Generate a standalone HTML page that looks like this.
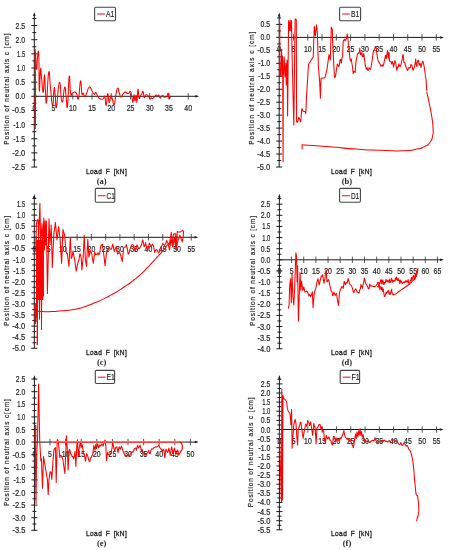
<!DOCTYPE html>
<html><head><meta charset="utf-8"><style>
html,body{margin:0;padding:0;background:#fff;}
svg{display:block}
.tl{font-family:"Liberation Sans", sans-serif;font-size:8.8px;fill:#222;stroke:#222;stroke-width:0.2px;}
.tt{font-family:"Liberation Sans", sans-serif;font-size:8.0px;fill:#222;stroke:#222;stroke-width:0.2px;}
.xt{word-spacing:1.5px;stroke-width:0.35px}
.lg{font-family:"Liberation Sans", sans-serif;font-size:8.6px;fill:#222;stroke:#222;stroke-width:0.15px;}
.cap{font-family:"Liberation Serif", serif;font-size:8.5px;font-weight:bold;fill:#222;}
</style></head><body>
<svg width="453" height="550" viewBox="0 0 453 550">
<rect width="453" height="550" fill="#fff"/>
<line x1="34.3" y1="167.05" x2="34.3" y2="14.3" stroke="#1a1a1a" stroke-width="1"/>
<path d="M34.3 12.3 L33.05 16.1 L35.55 16.1 Z" fill="#1a1a1a"/>
<line x1="31.3" y1="167.05" x2="37.3" y2="167.05" stroke="#1a1a1a" stroke-width="1"/>
<text transform="translate(25.2,170.05)" class="tl" text-anchor="end" textLength="12.9" lengthAdjust="spacingAndGlyphs">-2.5</text>
<line x1="32.3" y1="159.97" x2="36.3" y2="159.97" stroke="#1a1a1a" stroke-width="1"/>
<line x1="31.3" y1="152.9" x2="37.3" y2="152.9" stroke="#1a1a1a" stroke-width="1"/>
<text transform="translate(25.2,155.9)" class="tl" text-anchor="end" textLength="12.9" lengthAdjust="spacingAndGlyphs">-2.0</text>
<line x1="32.3" y1="145.82" x2="36.3" y2="145.82" stroke="#1a1a1a" stroke-width="1"/>
<line x1="31.3" y1="138.75" x2="37.3" y2="138.75" stroke="#1a1a1a" stroke-width="1"/>
<text transform="translate(25.2,141.75)" class="tl" text-anchor="end" textLength="11.9" lengthAdjust="spacingAndGlyphs">-1.5</text>
<line x1="32.3" y1="131.68" x2="36.3" y2="131.68" stroke="#1a1a1a" stroke-width="1"/>
<line x1="31.3" y1="124.6" x2="37.3" y2="124.6" stroke="#1a1a1a" stroke-width="1"/>
<text transform="translate(25.2,127.6)" class="tl" text-anchor="end" textLength="11.9" lengthAdjust="spacingAndGlyphs">-1.0</text>
<line x1="32.3" y1="117.53" x2="36.3" y2="117.53" stroke="#1a1a1a" stroke-width="1"/>
<line x1="31.3" y1="110.45" x2="37.3" y2="110.45" stroke="#1a1a1a" stroke-width="1"/>
<text transform="translate(25.2,113.45)" class="tl" text-anchor="end" textLength="12.9" lengthAdjust="spacingAndGlyphs">-0.5</text>
<line x1="32.3" y1="103.38" x2="36.3" y2="103.38" stroke="#1a1a1a" stroke-width="1"/>
<line x1="31.3" y1="96.3" x2="37.3" y2="96.3" stroke="#1a1a1a" stroke-width="1"/>
<text transform="translate(25.2,99.3)" class="tl" text-anchor="end" textLength="9.6" lengthAdjust="spacingAndGlyphs">0.0</text>
<line x1="32.3" y1="89.22" x2="36.3" y2="89.22" stroke="#1a1a1a" stroke-width="1"/>
<line x1="31.3" y1="82.15" x2="37.3" y2="82.15" stroke="#1a1a1a" stroke-width="1"/>
<text transform="translate(25.2,85.15)" class="tl" text-anchor="end" textLength="9.6" lengthAdjust="spacingAndGlyphs">0.5</text>
<line x1="32.3" y1="75.07" x2="36.3" y2="75.07" stroke="#1a1a1a" stroke-width="1"/>
<line x1="31.3" y1="68" x2="37.3" y2="68" stroke="#1a1a1a" stroke-width="1"/>
<text transform="translate(25.2,71)" class="tl" text-anchor="end" textLength="8.1" lengthAdjust="spacingAndGlyphs">1.0</text>
<line x1="32.3" y1="60.92" x2="36.3" y2="60.92" stroke="#1a1a1a" stroke-width="1"/>
<line x1="31.3" y1="53.85" x2="37.3" y2="53.85" stroke="#1a1a1a" stroke-width="1"/>
<text transform="translate(25.2,56.85)" class="tl" text-anchor="end" textLength="8.1" lengthAdjust="spacingAndGlyphs">1.5</text>
<line x1="32.3" y1="46.77" x2="36.3" y2="46.77" stroke="#1a1a1a" stroke-width="1"/>
<line x1="31.3" y1="39.7" x2="37.3" y2="39.7" stroke="#1a1a1a" stroke-width="1"/>
<text transform="translate(25.2,42.7)" class="tl" text-anchor="end" textLength="9.6" lengthAdjust="spacingAndGlyphs">2.0</text>
<line x1="32.3" y1="32.62" x2="36.3" y2="32.62" stroke="#1a1a1a" stroke-width="1"/>
<line x1="31.3" y1="25.55" x2="37.3" y2="25.55" stroke="#1a1a1a" stroke-width="1"/>
<text transform="translate(25.2,28.55)" class="tl" text-anchor="end" textLength="9.6" lengthAdjust="spacingAndGlyphs">2.5</text>
<line x1="32.3" y1="18.47" x2="36.3" y2="18.47" stroke="#1a1a1a" stroke-width="1"/>
<line x1="34.3" y1="96.3" x2="197.2" y2="96.3" stroke="#1a1a1a" stroke-width="1"/>
<path d="M199.2 96.3 L195.4 95.05 L195.4 97.55 Z" fill="#1a1a1a"/>
<text transform="translate(34.3,110.9)" class="tl" text-anchor="middle" textLength="3.87" lengthAdjust="spacingAndGlyphs">0</text>
<line x1="53.54" y1="93.1" x2="53.54" y2="99.5" stroke="#3a3a3a" stroke-width="0.85"/>
<text transform="translate(53.54,110.9)" class="tl" text-anchor="middle" textLength="3.87" lengthAdjust="spacingAndGlyphs">5</text>
<line x1="72.78" y1="93.1" x2="72.78" y2="99.5" stroke="#3a3a3a" stroke-width="0.85"/>
<text transform="translate(72.78,110.9)" class="tl" text-anchor="middle" textLength="7.75" lengthAdjust="spacingAndGlyphs">10</text>
<line x1="92.02" y1="93.1" x2="92.02" y2="99.5" stroke="#3a3a3a" stroke-width="0.85"/>
<text transform="translate(92.02,110.9)" class="tl" text-anchor="middle" textLength="7.75" lengthAdjust="spacingAndGlyphs">15</text>
<line x1="111.26" y1="93.1" x2="111.26" y2="99.5" stroke="#3a3a3a" stroke-width="0.85"/>
<text transform="translate(111.26,110.9)" class="tl" text-anchor="middle" textLength="7.75" lengthAdjust="spacingAndGlyphs">20</text>
<line x1="130.5" y1="93.1" x2="130.5" y2="99.5" stroke="#3a3a3a" stroke-width="0.85"/>
<text transform="translate(130.5,110.9)" class="tl" text-anchor="middle" textLength="7.75" lengthAdjust="spacingAndGlyphs">25</text>
<line x1="149.74" y1="93.1" x2="149.74" y2="99.5" stroke="#3a3a3a" stroke-width="0.85"/>
<text transform="translate(149.74,110.9)" class="tl" text-anchor="middle" textLength="7.75" lengthAdjust="spacingAndGlyphs">30</text>
<line x1="168.98" y1="93.1" x2="168.98" y2="99.5" stroke="#3a3a3a" stroke-width="0.85"/>
<text transform="translate(168.98,110.9)" class="tl" text-anchor="middle" textLength="7.75" lengthAdjust="spacingAndGlyphs">35</text>
<line x1="188.22" y1="93.1" x2="188.22" y2="99.5" stroke="#3a3a3a" stroke-width="0.85"/>
<text transform="translate(188.22,110.9)" class="tl" text-anchor="middle" textLength="7.75" lengthAdjust="spacingAndGlyphs">40</text>
<text transform="translate(9.2,144.7) rotate(-90) scale(0.82,1)" class="tt" textLength="135.85" lengthAdjust="spacing">Position of neutral axis c [cm]</text>
<text transform="translate(85.9,173.9) scale(0.82,1)" class="tt xt" textLength="50" lengthAdjust="spacing">Load F [kN]</text>
<text x="101.6" y="183.5" text-anchor="middle" class="cap">(a)</text>
<rect x="94.6" y="7.3" width="20.9" height="13.4" fill="#fff" stroke="#444" stroke-width="1.1" rx="1.2"/>
<line x1="97.1" y1="14" x2="104.9" y2="14" stroke="#ff2a40" stroke-width="1.2"/>
<text x="105.9" y="16.8" class="lg" textLength="8.3" lengthAdjust="spacingAndGlyphs">A1</text>
<path d="M35 96.3 35.3 128.5 35.6 100 35.2 49.4 36.6 69.5" fill="none" stroke="#f00" stroke-width="1.05" stroke-linejoin="round"/>
<path d="M36.6 69.5 C37.13 64.89 37.88 46.6 38.6 52.2 C39.32 57.8 38.79 85.94 39.3 90.5 C39.81 95.06 39.89 72.58 40.5 69.3 C41.11 66.02 40.85 72.09 41.6 78.2 C42.35 84.31 42.55 93.08 43.3 92.2 C44.05 91.32 43.81 74.95 44.4 74.9 C44.99 74.85 44.91 84.91 45.5 92 C46.09 99.09 45.75 106.75 46.6 101.5 C47.45 96.25 47.66 75.9 48.7 72.3 C49.74 68.7 49.46 79.17 50.5 88 C51.54 96.83 51.61 105.35 52.6 105.4 C53.59 105.45 53.48 90.71 54.2 88.2 C54.92 85.69 54.69 90.99 55.3 96 C55.91 101.01 55.41 110.65 56.5 107 C57.59 103.35 57.93 83.63 59.4 82.3 C60.87 80.97 60.61 100.61 62 102 C63.39 103.39 63.53 89.37 64.6 87.5 C65.67 85.63 65.23 89.93 66 95 C66.77 100.07 66.65 111.46 67.5 106.5 C68.35 101.54 68.37 79.81 69.2 76.4 C70.03 72.99 69.8 89.22 70.6 93.7 C71.4 98.18 71.03 93.63 72.2 93.2 C73.37 92.77 73.83 91.97 75 92.1 C76.17 92.23 75.64 92.1 76.6 93.7 C77.56 95.3 77.56 101.49 78.6 98.1 C79.64 94.71 79.62 82.17 80.5 81 C81.38 79.83 81.18 90.45 81.9 93.7 C82.62 96.95 82.4 92.45 83.2 93.2 C84 93.95 83.99 96.5 84.9 96.5 C85.81 96.5 85.43 95.71 86.6 93.2 C87.77 90.69 87.83 87.69 89.3 87.1 C90.77 86.51 90.77 89.08 92.1 91 C93.43 92.92 93.29 93.87 94.3 94.3 C95.31 94.73 94.89 91.88 95.9 92.6 C96.91 93.32 96.9 95.32 98.1 97 C99.3 98.68 99.07 98.39 100.4 98.9 C101.73 99.41 101.93 99.54 103.1 98.9 C104.27 98.26 103.97 94.79 104.8 96.5 C105.63 98.21 105.43 106.05 106.2 105.3 C106.97 104.55 106.9 94.42 107.7 93.7 C108.5 92.98 108.37 101.99 109.2 102.6 C110.03 103.21 109.92 96.75 110.8 96 C111.68 95.25 111.59 97.45 112.5 99.8 C113.41 102.15 113.32 105.97 114.2 104.8 C115.08 103.63 114.89 99.83 115.8 95.4 C116.71 90.97 116.61 88.65 117.6 88.2 C118.59 87.75 118.57 91.35 119.5 93.7 C120.43 96.05 120.09 97 121.1 97 C122.11 97 122.13 95.01 123.3 93.7 C124.47 92.39 124.19 92.1 125.5 92.1 C126.81 92.1 126.87 93.86 128.2 93.7 C129.53 93.54 129.46 90.33 130.5 91.5 C131.54 92.67 131.46 95.3 132.1 98.1 C132.74 100.9 132.39 102.88 132.9 102 C133.41 101.12 133.47 95.09 134 94.8 C134.53 94.51 134.31 100.74 134.9 100.9 C135.49 101.06 135.67 95.11 136.2 95.4 C136.73 95.69 136.42 103.63 136.9 102 C137.38 100.37 137.41 90.34 138 89.3 C138.59 88.26 138.41 96.47 139.1 98.1 C139.79 99.73 139.91 96.41 140.6 95.4 C141.29 94.39 141.03 95.34 141.7 94.3 C142.37 93.26 142.43 90.62 143.1 91.5 C143.77 92.38 143.45 96.72 144.2 97.6 C144.95 98.48 144.86 95.25 145.9 94.8 C146.94 94.35 146.93 94.86 148.1 95.9 C149.27 96.94 149.45 98.22 150.3 98.7 C151.15 99.18 150.69 97.75 151.3 97.7 C151.91 97.65 151.77 98.74 152.6 98.5 C153.43 98.26 153.44 97.73 154.4 96.8 C155.36 95.87 155.37 95.13 156.2 95 C157.03 94.87 156.81 96.3 157.5 96.3 C158.19 96.3 158.08 94.52 158.8 95 C159.52 95.48 159.48 97.75 160.2 98.1 C160.92 98.45 160.81 96.99 161.5 96.3 C162.19 95.61 162.11 95.26 162.8 95.5 C163.49 95.74 163.27 96.85 164.1 97.2 C164.93 97.55 165.07 97.15 165.9 96.8 C166.73 96.45 166.61 96.86 167.2 95.9 C167.79 94.94 167.62 92.72 168.1 93.2 C168.58 93.68 168.6 96.29 169 97.7 C169.4 99.11 169.25 98.74 169.6 98.5 C169.95 98.26 170.46 96.67 170.3 96.8 C170.14 96.93 169.35 98.41 169 99" fill="none" stroke="#f00" stroke-width="1.05" stroke-linejoin="round"/>
<line x1="279.2" y1="167" x2="279.2" y2="14.6" stroke="#1a1a1a" stroke-width="1"/>
<path d="M279.2 12.6 L277.95 16.4 L280.45 16.4 Z" fill="#1a1a1a"/>
<line x1="276.2" y1="167" x2="282.2" y2="167" stroke="#1a1a1a" stroke-width="1"/>
<text transform="translate(270.1,170)" class="tl" text-anchor="end" textLength="12.9" lengthAdjust="spacingAndGlyphs">-5.0</text>
<line x1="277.2" y1="160.52" x2="281.2" y2="160.52" stroke="#1a1a1a" stroke-width="1"/>
<line x1="276.2" y1="154.04" x2="282.2" y2="154.04" stroke="#1a1a1a" stroke-width="1"/>
<text transform="translate(270.1,157.04)" class="tl" text-anchor="end" textLength="12.9" lengthAdjust="spacingAndGlyphs">-4.5</text>
<line x1="277.2" y1="147.56" x2="281.2" y2="147.56" stroke="#1a1a1a" stroke-width="1"/>
<line x1="276.2" y1="141.08" x2="282.2" y2="141.08" stroke="#1a1a1a" stroke-width="1"/>
<text transform="translate(270.1,144.08)" class="tl" text-anchor="end" textLength="12.9" lengthAdjust="spacingAndGlyphs">-4.0</text>
<line x1="277.2" y1="134.6" x2="281.2" y2="134.6" stroke="#1a1a1a" stroke-width="1"/>
<line x1="276.2" y1="128.12" x2="282.2" y2="128.12" stroke="#1a1a1a" stroke-width="1"/>
<text transform="translate(270.1,131.12)" class="tl" text-anchor="end" textLength="12.9" lengthAdjust="spacingAndGlyphs">-3.5</text>
<line x1="277.2" y1="121.64" x2="281.2" y2="121.64" stroke="#1a1a1a" stroke-width="1"/>
<line x1="276.2" y1="115.16" x2="282.2" y2="115.16" stroke="#1a1a1a" stroke-width="1"/>
<text transform="translate(270.1,118.16)" class="tl" text-anchor="end" textLength="12.9" lengthAdjust="spacingAndGlyphs">-3.0</text>
<line x1="277.2" y1="108.68" x2="281.2" y2="108.68" stroke="#1a1a1a" stroke-width="1"/>
<line x1="276.2" y1="102.2" x2="282.2" y2="102.2" stroke="#1a1a1a" stroke-width="1"/>
<text transform="translate(270.1,105.2)" class="tl" text-anchor="end" textLength="12.9" lengthAdjust="spacingAndGlyphs">-2.5</text>
<line x1="277.2" y1="95.72" x2="281.2" y2="95.72" stroke="#1a1a1a" stroke-width="1"/>
<line x1="276.2" y1="89.24" x2="282.2" y2="89.24" stroke="#1a1a1a" stroke-width="1"/>
<text transform="translate(270.1,92.24)" class="tl" text-anchor="end" textLength="12.9" lengthAdjust="spacingAndGlyphs">-2.0</text>
<line x1="277.2" y1="82.76" x2="281.2" y2="82.76" stroke="#1a1a1a" stroke-width="1"/>
<line x1="276.2" y1="76.28" x2="282.2" y2="76.28" stroke="#1a1a1a" stroke-width="1"/>
<text transform="translate(270.1,79.28)" class="tl" text-anchor="end" textLength="11.9" lengthAdjust="spacingAndGlyphs">-1.5</text>
<line x1="277.2" y1="69.8" x2="281.2" y2="69.8" stroke="#1a1a1a" stroke-width="1"/>
<line x1="276.2" y1="63.32" x2="282.2" y2="63.32" stroke="#1a1a1a" stroke-width="1"/>
<text transform="translate(270.1,66.32)" class="tl" text-anchor="end" textLength="11.9" lengthAdjust="spacingAndGlyphs">-1.0</text>
<line x1="277.2" y1="56.84" x2="281.2" y2="56.84" stroke="#1a1a1a" stroke-width="1"/>
<line x1="276.2" y1="50.36" x2="282.2" y2="50.36" stroke="#1a1a1a" stroke-width="1"/>
<text transform="translate(270.1,53.36)" class="tl" text-anchor="end" textLength="12.9" lengthAdjust="spacingAndGlyphs">-0.5</text>
<line x1="277.2" y1="43.88" x2="281.2" y2="43.88" stroke="#1a1a1a" stroke-width="1"/>
<line x1="276.2" y1="37.4" x2="282.2" y2="37.4" stroke="#1a1a1a" stroke-width="1"/>
<text transform="translate(270.1,40.4)" class="tl" text-anchor="end" textLength="9.6" lengthAdjust="spacingAndGlyphs">0.0</text>
<line x1="277.2" y1="30.92" x2="281.2" y2="30.92" stroke="#1a1a1a" stroke-width="1"/>
<line x1="276.2" y1="24.44" x2="282.2" y2="24.44" stroke="#1a1a1a" stroke-width="1"/>
<text transform="translate(270.1,27.44)" class="tl" text-anchor="end" textLength="9.6" lengthAdjust="spacingAndGlyphs">0.5</text>
<line x1="277.2" y1="17.96" x2="281.2" y2="17.96" stroke="#1a1a1a" stroke-width="1"/>
<line x1="279.2" y1="37.4" x2="442" y2="37.4" stroke="#1a1a1a" stroke-width="1"/>
<path d="M444 37.4 L440.2 36.15 L440.2 38.65 Z" fill="#1a1a1a"/>
<text transform="translate(279.2,52)" class="tl" text-anchor="middle" textLength="3.87" lengthAdjust="spacingAndGlyphs">0</text>
<line x1="293.48" y1="34.2" x2="293.48" y2="40.6" stroke="#3a3a3a" stroke-width="0.85"/>
<text transform="translate(293.48,52)" class="tl" text-anchor="middle" textLength="3.87" lengthAdjust="spacingAndGlyphs">5</text>
<line x1="307.76" y1="34.2" x2="307.76" y2="40.6" stroke="#3a3a3a" stroke-width="0.85"/>
<text transform="translate(307.76,52)" class="tl" text-anchor="middle" textLength="7.75" lengthAdjust="spacingAndGlyphs">10</text>
<line x1="322.04" y1="34.2" x2="322.04" y2="40.6" stroke="#3a3a3a" stroke-width="0.85"/>
<text transform="translate(322.04,52)" class="tl" text-anchor="middle" textLength="7.75" lengthAdjust="spacingAndGlyphs">15</text>
<line x1="336.32" y1="34.2" x2="336.32" y2="40.6" stroke="#3a3a3a" stroke-width="0.85"/>
<text transform="translate(336.32,52)" class="tl" text-anchor="middle" textLength="7.75" lengthAdjust="spacingAndGlyphs">20</text>
<line x1="350.6" y1="34.2" x2="350.6" y2="40.6" stroke="#3a3a3a" stroke-width="0.85"/>
<text transform="translate(350.6,52)" class="tl" text-anchor="middle" textLength="7.75" lengthAdjust="spacingAndGlyphs">25</text>
<line x1="364.88" y1="34.2" x2="364.88" y2="40.6" stroke="#3a3a3a" stroke-width="0.85"/>
<text transform="translate(364.88,52)" class="tl" text-anchor="middle" textLength="7.75" lengthAdjust="spacingAndGlyphs">30</text>
<line x1="379.16" y1="34.2" x2="379.16" y2="40.6" stroke="#3a3a3a" stroke-width="0.85"/>
<text transform="translate(379.16,52)" class="tl" text-anchor="middle" textLength="7.75" lengthAdjust="spacingAndGlyphs">35</text>
<line x1="393.44" y1="34.2" x2="393.44" y2="40.6" stroke="#3a3a3a" stroke-width="0.85"/>
<text transform="translate(393.44,52)" class="tl" text-anchor="middle" textLength="7.75" lengthAdjust="spacingAndGlyphs">40</text>
<line x1="407.72" y1="34.2" x2="407.72" y2="40.6" stroke="#3a3a3a" stroke-width="0.85"/>
<text transform="translate(407.72,52)" class="tl" text-anchor="middle" textLength="7.75" lengthAdjust="spacingAndGlyphs">45</text>
<line x1="422" y1="34.2" x2="422" y2="40.6" stroke="#3a3a3a" stroke-width="0.85"/>
<text transform="translate(422,52)" class="tl" text-anchor="middle" textLength="7.75" lengthAdjust="spacingAndGlyphs">50</text>
<line x1="436.28" y1="34.2" x2="436.28" y2="40.6" stroke="#3a3a3a" stroke-width="0.85"/>
<text transform="translate(436.28,52)" class="tl" text-anchor="middle" textLength="7.75" lengthAdjust="spacingAndGlyphs">55</text>
<text transform="translate(254.1,144.8) rotate(-90) scale(0.82,1)" class="tt" textLength="138.05" lengthAdjust="spacing">Position of neutral axis c [cm]</text>
<text transform="translate(330.9,173.7) scale(0.82,1)" class="tt xt" textLength="50" lengthAdjust="spacing">Load F [kN]</text>
<text x="346.9" y="183.6" text-anchor="middle" class="cap">(b)</text>
<rect x="339.6" y="7.3" width="21" height="13.4" fill="#fff" stroke="#444" stroke-width="1.1" rx="1.2"/>
<line x1="342.1" y1="14" x2="349.9" y2="14" stroke="#ff2a40" stroke-width="1.2"/>
<text x="350.9" y="16.8" class="lg" textLength="8.3" lengthAdjust="spacingAndGlyphs">B1</text>
<path d="M279.4 37.4 279.8 22.7 279.8 76 280.6 76 281.6 49.2 282.1 76 282.6 56 283.1 161.8 283.3 77 284.2 57 285 77 285.9 63 286.3 85 287.2 60 287.6 115.9 288.6 20.5 289.4 31 290.1 20 290.8 31 291.5 20.5 292.2 60 293.8 125.1 294.6 60 295.1 19.1 295.7 19.3 296.3 19.5 296.6 122 297.1 122 297.6 122 298.2 119.7 298.8 117.4 299.43 118.83 300.07 120.27 300.7 121.7 301.9 108.5 302.45 109.85 303 111.2 303.67 111.33 304.33 111.47 305 111.6 305.8 113.5 306.5 97 307.8 75.8 308.5 64.5 309.09 63.56 309.68 62.62 310.26 61.69 310.85 60.75 311.44 59.81 312.02 58.88 312.61 57.94 313.2 57 314.3 26.2 315.3 36 316.5 24.7 317.4 33.2 318.4 66.5 319.7 82.4 320.4 98.3 321 78.4 321.57 78.3 322.14 78.2 322.71 78.1 323.29 78 323.86 77.9 324.43 77.8 325 77.7 325.67 74.83 326.33 71.97 327 69.1 329 54.6 329.65 57.25 330.3 59.9 331.3 27 331.85 28.5 332.4 30 332.6 40.9 334.3 75.1 334.87 77.81 335.43 76.37 336 72.73 337.3 64.08 337.95 64.79 338.6 66.79 339.3 65.55 340 59.99 340.65 59.3 341.3 63.15 341.95 58.1 342.6 56.86 343.2 40.91 343.75 40.57 344.3 39.35 345.2 40.79 345.9 39.22 346.55 38.69 347.2 33.86 348.5 43.73 349.9 58.32 350.55 61.03 351.2 58.78 352.5 67.23 353.2 73.6 353.87 71.12 354.53 71.69 355.2 72.38 355.8 63.38 356.5 58.71 357.2 55.4 357.65 53.69 358.1 53.29 358.6 53.41 359.1 53.01 359.8 47.96 360.5 54.39 361.17 54.84 361.83 52.47 362.5 56.66 363.15 56.67 363.8 53.53 364.7 61.23 365.25 65.2 365.8 67.1 366.45 69.27 367.1 67.59 367.75 70.42 368.4 70.29 369.07 67.71 369.73 68.52 370.4 69.39 371.05 67.2 371.7 63.43 373 53.96 373.7 50.08 374.4 50.16 375.3 46.45 375.85 47.4 376.4 49.1 377.05 54.7 377.7 59.16 378.35 61.31 379 62.05 379.65 63.38 380.3 64.74 380.97 66.38 381.63 65.28 382.3 64.84 382.95 66.35 383.6 64.95 384.3 61.03 385.6 55.16 386.3 58.71 386.95 54.03 387.6 50.35 388.2 58.29 389 52.21 389.6 61.31 390.3 61.56 391 61.71 391.65 64.02 392.3 61.41 392.95 63.87 393.6 67.15 394.25 63.2 394.9 60.59 395.6 62.6 396.3 67.05 396.95 70.48 397.6 66.83 398.25 67.28 398.9 63.87 399.55 65.86 400.2 66.75 400.9 65.11 401.6 61.6 402.25 58.52 402.9 54.52 403.35 55.24 403.8 62.12 404.35 62.51 404.9 62.54 405.55 65.82 406.2 67.42 406.85 68.71 407.5 70.6 408.15 69.3 408.8 67.44 409.5 68.03 410.2 67.88 410.85 64.65 411.5 64.69 412.15 66.07 412.8 69.84 413.33 69.98 413.87 68.35 414.4 67.04 415.05 64.5 415.7 58.93 416.25 64.63 416.8 66.4 417.45 61.98 418.1 60.29 418.63 60.94 419.17 65.46 419.7 63.5 420.35 63.77 421 67.45 421.7 64.34 422.4 61.26 422.9 61.38 423.4 62.94 424.1 66.37 424.7 70.22 425.4 75.8 426.1 79.76 426.7 90.67" fill="none" stroke="#f00" stroke-width="1.05" stroke-linejoin="round"/>
<path d="M426.7 91.6 C427.6 95.73 427.77 96.03 429.4 104 C431.03 111.97 430.4 107.67 431.6 115.5 C432.8 123.33 432.67 120.67 433 127.5 C433.33 134.33 433.67 131 432.6 136 C431.53 141 432.5 138.97 429.8 142.5 C427.1 146.03 428.83 144.4 424.5 146.6 C420.17 148.8 423.73 147.7 416.8 149.1 C409.87 150.5 415.63 150.4 403.7 150.8 C391.77 151.2 396.67 150.87 381 150.3 C365.33 149.73 372.9 150.17 356.7 149.1 C340.5 148.03 348.6 148.4 332.4 147.1 C316.2 145.8 318.2 146 308.1 145.2 C298 144.4 304.1 144.87 302.1 144.7" fill="none" stroke="#f00" stroke-width="1.05" stroke-linejoin="round"/>
<path d="M302.1 144.7 302.1 149.6" fill="none" stroke="#f00" stroke-width="1.05" stroke-linejoin="round"/>
<line x1="34.3" y1="348.3" x2="34.3" y2="196.1" stroke="#1a1a1a" stroke-width="1"/>
<path d="M34.3 194.1 L33.05 197.9 L35.55 197.9 Z" fill="#1a1a1a"/>
<line x1="31.3" y1="348.3" x2="37.3" y2="348.3" stroke="#1a1a1a" stroke-width="1"/>
<text transform="translate(25.2,351.3)" class="tl" text-anchor="end" textLength="12.9" lengthAdjust="spacingAndGlyphs">-5.0</text>
<line x1="32.3" y1="342.75" x2="36.3" y2="342.75" stroke="#1a1a1a" stroke-width="1"/>
<line x1="31.3" y1="337.2" x2="37.3" y2="337.2" stroke="#1a1a1a" stroke-width="1"/>
<text transform="translate(25.2,340.2)" class="tl" text-anchor="end" textLength="12.9" lengthAdjust="spacingAndGlyphs">-4.5</text>
<line x1="32.3" y1="331.65" x2="36.3" y2="331.65" stroke="#1a1a1a" stroke-width="1"/>
<line x1="31.3" y1="326.1" x2="37.3" y2="326.1" stroke="#1a1a1a" stroke-width="1"/>
<text transform="translate(25.2,329.1)" class="tl" text-anchor="end" textLength="12.9" lengthAdjust="spacingAndGlyphs">-4.0</text>
<line x1="32.3" y1="320.55" x2="36.3" y2="320.55" stroke="#1a1a1a" stroke-width="1"/>
<line x1="31.3" y1="315" x2="37.3" y2="315" stroke="#1a1a1a" stroke-width="1"/>
<text transform="translate(25.2,318)" class="tl" text-anchor="end" textLength="12.9" lengthAdjust="spacingAndGlyphs">-3.5</text>
<line x1="32.3" y1="309.45" x2="36.3" y2="309.45" stroke="#1a1a1a" stroke-width="1"/>
<line x1="31.3" y1="303.9" x2="37.3" y2="303.9" stroke="#1a1a1a" stroke-width="1"/>
<text transform="translate(25.2,306.9)" class="tl" text-anchor="end" textLength="12.9" lengthAdjust="spacingAndGlyphs">-3.0</text>
<line x1="32.3" y1="298.35" x2="36.3" y2="298.35" stroke="#1a1a1a" stroke-width="1"/>
<line x1="31.3" y1="292.8" x2="37.3" y2="292.8" stroke="#1a1a1a" stroke-width="1"/>
<text transform="translate(25.2,295.8)" class="tl" text-anchor="end" textLength="12.9" lengthAdjust="spacingAndGlyphs">-2.5</text>
<line x1="32.3" y1="287.25" x2="36.3" y2="287.25" stroke="#1a1a1a" stroke-width="1"/>
<line x1="31.3" y1="281.7" x2="37.3" y2="281.7" stroke="#1a1a1a" stroke-width="1"/>
<text transform="translate(25.2,284.7)" class="tl" text-anchor="end" textLength="12.9" lengthAdjust="spacingAndGlyphs">-2.0</text>
<line x1="32.3" y1="276.15" x2="36.3" y2="276.15" stroke="#1a1a1a" stroke-width="1"/>
<line x1="31.3" y1="270.6" x2="37.3" y2="270.6" stroke="#1a1a1a" stroke-width="1"/>
<text transform="translate(25.2,273.6)" class="tl" text-anchor="end" textLength="11.9" lengthAdjust="spacingAndGlyphs">-1.5</text>
<line x1="32.3" y1="265.05" x2="36.3" y2="265.05" stroke="#1a1a1a" stroke-width="1"/>
<line x1="31.3" y1="259.5" x2="37.3" y2="259.5" stroke="#1a1a1a" stroke-width="1"/>
<text transform="translate(25.2,262.5)" class="tl" text-anchor="end" textLength="11.9" lengthAdjust="spacingAndGlyphs">-1.0</text>
<line x1="32.3" y1="253.95" x2="36.3" y2="253.95" stroke="#1a1a1a" stroke-width="1"/>
<line x1="31.3" y1="248.4" x2="37.3" y2="248.4" stroke="#1a1a1a" stroke-width="1"/>
<text transform="translate(25.2,251.4)" class="tl" text-anchor="end" textLength="12.9" lengthAdjust="spacingAndGlyphs">-0.5</text>
<line x1="32.3" y1="242.85" x2="36.3" y2="242.85" stroke="#1a1a1a" stroke-width="1"/>
<line x1="31.3" y1="237.3" x2="37.3" y2="237.3" stroke="#1a1a1a" stroke-width="1"/>
<text transform="translate(25.2,240.3)" class="tl" text-anchor="end" textLength="9.6" lengthAdjust="spacingAndGlyphs">0.0</text>
<line x1="32.3" y1="231.75" x2="36.3" y2="231.75" stroke="#1a1a1a" stroke-width="1"/>
<line x1="31.3" y1="226.2" x2="37.3" y2="226.2" stroke="#1a1a1a" stroke-width="1"/>
<text transform="translate(25.2,229.2)" class="tl" text-anchor="end" textLength="9.6" lengthAdjust="spacingAndGlyphs">0.5</text>
<line x1="32.3" y1="220.65" x2="36.3" y2="220.65" stroke="#1a1a1a" stroke-width="1"/>
<line x1="31.3" y1="215.1" x2="37.3" y2="215.1" stroke="#1a1a1a" stroke-width="1"/>
<text transform="translate(25.2,218.1)" class="tl" text-anchor="end" textLength="8.1" lengthAdjust="spacingAndGlyphs">1.0</text>
<line x1="32.3" y1="209.55" x2="36.3" y2="209.55" stroke="#1a1a1a" stroke-width="1"/>
<line x1="31.3" y1="204" x2="37.3" y2="204" stroke="#1a1a1a" stroke-width="1"/>
<text transform="translate(25.2,207)" class="tl" text-anchor="end" textLength="8.1" lengthAdjust="spacingAndGlyphs">1.5</text>
<line x1="32.3" y1="198.45" x2="36.3" y2="198.45" stroke="#1a1a1a" stroke-width="1"/>
<line x1="34.3" y1="237.3" x2="196.3" y2="237.3" stroke="#1a1a1a" stroke-width="1"/>
<path d="M198.3 237.3 L194.5 236.05 L194.5 238.55 Z" fill="#1a1a1a"/>
<text transform="translate(34.3,251.9)" class="tl" text-anchor="middle" textLength="3.87" lengthAdjust="spacingAndGlyphs">0</text>
<line x1="48.57" y1="234.1" x2="48.57" y2="240.5" stroke="#3a3a3a" stroke-width="0.85"/>
<text transform="translate(48.57,251.9)" class="tl" text-anchor="middle" textLength="3.87" lengthAdjust="spacingAndGlyphs">5</text>
<line x1="62.84" y1="234.1" x2="62.84" y2="240.5" stroke="#3a3a3a" stroke-width="0.85"/>
<text transform="translate(62.84,251.9)" class="tl" text-anchor="middle" textLength="7.75" lengthAdjust="spacingAndGlyphs">10</text>
<line x1="77.11" y1="234.1" x2="77.11" y2="240.5" stroke="#3a3a3a" stroke-width="0.85"/>
<text transform="translate(77.11,251.9)" class="tl" text-anchor="middle" textLength="7.75" lengthAdjust="spacingAndGlyphs">15</text>
<line x1="91.38" y1="234.1" x2="91.38" y2="240.5" stroke="#3a3a3a" stroke-width="0.85"/>
<text transform="translate(91.38,251.9)" class="tl" text-anchor="middle" textLength="7.75" lengthAdjust="spacingAndGlyphs">20</text>
<line x1="105.65" y1="234.1" x2="105.65" y2="240.5" stroke="#3a3a3a" stroke-width="0.85"/>
<text transform="translate(105.65,251.9)" class="tl" text-anchor="middle" textLength="7.75" lengthAdjust="spacingAndGlyphs">25</text>
<line x1="119.92" y1="234.1" x2="119.92" y2="240.5" stroke="#3a3a3a" stroke-width="0.85"/>
<text transform="translate(119.92,251.9)" class="tl" text-anchor="middle" textLength="7.75" lengthAdjust="spacingAndGlyphs">30</text>
<line x1="134.19" y1="234.1" x2="134.19" y2="240.5" stroke="#3a3a3a" stroke-width="0.85"/>
<text transform="translate(134.19,251.9)" class="tl" text-anchor="middle" textLength="7.75" lengthAdjust="spacingAndGlyphs">35</text>
<line x1="148.46" y1="234.1" x2="148.46" y2="240.5" stroke="#3a3a3a" stroke-width="0.85"/>
<text transform="translate(148.46,251.9)" class="tl" text-anchor="middle" textLength="7.75" lengthAdjust="spacingAndGlyphs">40</text>
<line x1="162.73" y1="234.1" x2="162.73" y2="240.5" stroke="#3a3a3a" stroke-width="0.85"/>
<text transform="translate(162.73,251.9)" class="tl" text-anchor="middle" textLength="7.75" lengthAdjust="spacingAndGlyphs">45</text>
<line x1="177" y1="234.1" x2="177" y2="240.5" stroke="#3a3a3a" stroke-width="0.85"/>
<text transform="translate(177,251.9)" class="tl" text-anchor="middle" textLength="7.75" lengthAdjust="spacingAndGlyphs">50</text>
<line x1="191.27" y1="234.1" x2="191.27" y2="240.5" stroke="#3a3a3a" stroke-width="0.85"/>
<text transform="translate(191.27,251.9)" class="tl" text-anchor="middle" textLength="7.75" lengthAdjust="spacingAndGlyphs">55</text>
<text transform="translate(9.1,326) rotate(-90) scale(0.82,1)" class="tt" textLength="134.51" lengthAdjust="spacing">Position of neutral axis c [cm]</text>
<text transform="translate(85.9,355) scale(0.82,1)" class="tt xt" textLength="50" lengthAdjust="spacing">Load F [kN]</text>
<text x="101.7" y="365.2" text-anchor="middle" class="cap">(c)</text>
<rect x="95.3" y="188.4" width="19.5" height="13.8" fill="#fff" stroke="#444" stroke-width="1.1" rx="1.2"/>
<line x1="97.8" y1="195.7" x2="105.6" y2="195.7" stroke="#ff2a40" stroke-width="1.2"/>
<text x="106.6" y="198.5" class="lg" textLength="8.3" lengthAdjust="spacingAndGlyphs">C1</text>
<path d="M36.3 238 36.6 318 37.2 240 37.3 344.9 37.9 240 38.6 300 39.2 240 39.5 319.4 40.1 240 40.5 300 40.9 240 41.5 329.6 42.1 240 42.6 300 43.2 240 43.5 296" fill="none" stroke="#f00" stroke-width="1.0" stroke-linejoin="round"/>
<path d="M34.9 305 35.4 324 35.8 304 36.2 322" fill="none" stroke="#f00" stroke-width="1.0" stroke-linejoin="round"/>
<path d="M36.6 240 43.3 240 43.3 297 36.6 301 Z" fill="#f00" stroke="#f00" stroke-width="0.1" stroke-linejoin="round"/>
<path d="M35.9 248 36.4 224 37.2 219.8 38.1 219.8 38.6 240 39.9 203.2 40.7 245 42 223.3 42.8 245 43.8 218.1 44.4 250 45.1 220.7 45.7 245 46.4 221.1 47.4 293.4 48.2 260 49 218.9 50 245 51.2 225 52.3 267.7 53.8 234.6 55.4 222.4 57 240 58.6 226.53 60 237.91 61.6 263.54 62.9 229.42 63.75 232.54 64.6 234.74 66 251.29 66.65 253.67 67.3 253.4 69 266.49 70.3 237.27 71.3 258.48 72.15 256.54 73 251.11 73.8 255.53 74.6 259.41 76.2 271.13 77.9 262.82 78.9 259.68 79.9 253.9 80.55 254.88 81.2 257.53 81.9 270.01 83.2 257.62 84.2 235.29 85.4 259.75 86.5 266.49 87.8 239.31 88.9 257.2 89.55 254.39 90.2 250.55 91 252.19 91.8 253.8 92.6 259.22 93.4 263.33 94.7 251.87 95.5 254.71 96.3 254.05 97.1 254.56 97.97 252.63 98.83 254.74 99.7 253.85 100.4 247.89 101.1 244.96 101.75 245.21 102.4 244.18 104 256.1 105 265.75 106.6 252.46 107.3 250.94 108 248.77 108.65 248.03 109.3 247.32 110.15 248.86 111 249.42 111.85 247.73 112.7 244.01 113.5 247.33 114.3 251.75 115.3 248.83 116.3 246.35 116.95 250.56 117.6 254.05 118.6 253.36 119.6 251.8 120.5 254.87 121.4 257.96 122.3 261.69 123.6 248.27 124.5 247.23 125.4 246.9 126.3 244.79 127.25 248.44 128.2 254.15 129.1 252.85 130 249.4 130.9 246.56 131.77 244.75 132.63 244.71 133.5 245.14 134.2 248.12 134.9 251.03 135.9 249.4 136.9 244.74 137.77 246.51 138.63 248.78 139.5 248.45 140.5 246.77 141.5 244.86 142.15 242.1 142.8 239.76 144.1 246.62 144.8 245.81 145.5 242.63 146.5 246.84 147.5 250.37 148.45 247.29 149.4 243.06 150.4 245.15 151.4 246.66 152.4 244.18 153.4 245.48 154.7 252.42 155.7 249.94 156.7 249.62 157.7 251.5 158.7 253.04 159.7 250.36 160.7 248.32 161.7 246 162.7 243.36 163.7 244.82 164.7 245.39 165.7 243.38 166.7 240.57 167.57 242.77 168.43 243.4 169.3 244.3 170.3 238.3 171.3 232.3 172.5 245 173.5 234 174.35 233.8 175.2 233.6 176 248 177.2 231.6 177.85 231.75 178.5 231.9 179.5 231.9 180.5 231.9 181.27 231.37 182.03 230.83 182.8 230.3 183.5 231.9 183.2 236.6 182.2 241.9 181.43 239.67 180.67 237.43 179.9 235.2 178.9 238.2 177.9 241.2 176.9 245.5 175.9 249.8 174.5 238 173.65 242.5 172.8 247 171.9 243.5 171 240 169.5 250 168.75 246.5 168 244.16 167.1 245.26 166.2 246.55 165.3 247.91" fill="none" stroke="#f00" stroke-width="1.05" stroke-linejoin="round"/>
<path d="M166 247.3 C165.43 247.95 163.72 249.93 162.6 251.2 C161.48 252.47 160.42 253.68 159.3 254.9 C158.18 256.12 157.02 257.28 155.9 258.5 C154.78 259.72 153.72 260.98 152.6 262.2 C151.48 263.42 150.33 264.62 149.2 265.8 C148.07 266.98 146.92 268.15 145.8 269.3 C144.68 270.45 143.62 271.62 142.5 272.7 C141.38 273.78 140.22 274.82 139.1 275.8 C137.98 276.78 136.92 277.7 135.8 278.6 C134.68 279.5 133.52 280.35 132.4 281.2 C131.28 282.05 130.22 282.9 129.1 283.7 C127.98 284.5 126.83 285.25 125.7 286 C124.57 286.75 123.42 287.47 122.3 288.2 C121.18 288.93 120.12 289.7 119 290.4 C117.88 291.1 116.72 291.75 115.6 292.4 C114.48 293.05 113.42 293.67 112.3 294.3 C111.18 294.93 110.03 295.6 108.9 296.2 C107.77 296.8 106.62 297.33 105.5 297.9 C104.38 298.47 103.32 299.05 102.2 299.6 C101.08 300.15 99.92 300.7 98.8 301.2 C97.68 301.7 96.62 302.13 95.5 302.6 C94.38 303.07 93.23 303.55 92.1 304 C90.97 304.45 89.82 304.87 88.7 305.3 C87.58 305.73 86.52 306.2 85.4 306.6 C84.28 307 83.12 307.38 82 307.7 C80.88 308.02 79.82 308.25 78.7 308.5 C77.58 308.75 76.43 308.98 75.3 309.2 C74.17 309.42 73.02 309.63 71.9 309.8 C70.78 309.97 69.72 310.08 68.6 310.2 C67.48 310.32 66.32 310.4 65.2 310.5 C64.08 310.6 63.02 310.7 61.9 310.8 C60.78 310.9 59.62 311 58.5 311.1 C57.38 311.2 56.32 311.32 55.2 311.4 C54.08 311.48 52.93 311.55 51.8 311.6 C50.67 311.65 49.52 311.68 48.4 311.7 C47.28 311.72 46.22 311.73 45.1 311.7 C43.98 311.67 42.82 311.58 41.7 311.5 C40.58 311.42 39.52 311.32 38.4 311.2 C37.28 311.08 35.57 310.87 35 310.8" fill="none" stroke="#f00" stroke-width="1.05" stroke-linejoin="round"/>
<line x1="279.4" y1="348.76" x2="279.4" y2="195.8" stroke="#1a1a1a" stroke-width="1"/>
<path d="M279.4 193.8 L278.15 197.6 L280.65 197.6 Z" fill="#1a1a1a"/>
<line x1="276.4" y1="348.76" x2="282.4" y2="348.76" stroke="#1a1a1a" stroke-width="1"/>
<text transform="translate(270.3,351.76)" class="tl" text-anchor="end" textLength="12.9" lengthAdjust="spacingAndGlyphs">-4.0</text>
<line x1="277.4" y1="343.2" x2="281.4" y2="343.2" stroke="#1a1a1a" stroke-width="1"/>
<line x1="276.4" y1="337.64" x2="282.4" y2="337.64" stroke="#1a1a1a" stroke-width="1"/>
<text transform="translate(270.3,340.64)" class="tl" text-anchor="end" textLength="12.9" lengthAdjust="spacingAndGlyphs">-3.5</text>
<line x1="277.4" y1="332.08" x2="281.4" y2="332.08" stroke="#1a1a1a" stroke-width="1"/>
<line x1="276.4" y1="326.52" x2="282.4" y2="326.52" stroke="#1a1a1a" stroke-width="1"/>
<text transform="translate(270.3,329.52)" class="tl" text-anchor="end" textLength="12.9" lengthAdjust="spacingAndGlyphs">-3.0</text>
<line x1="277.4" y1="320.96" x2="281.4" y2="320.96" stroke="#1a1a1a" stroke-width="1"/>
<line x1="276.4" y1="315.4" x2="282.4" y2="315.4" stroke="#1a1a1a" stroke-width="1"/>
<text transform="translate(270.3,318.4)" class="tl" text-anchor="end" textLength="12.9" lengthAdjust="spacingAndGlyphs">-2.5</text>
<line x1="277.4" y1="309.84" x2="281.4" y2="309.84" stroke="#1a1a1a" stroke-width="1"/>
<line x1="276.4" y1="304.28" x2="282.4" y2="304.28" stroke="#1a1a1a" stroke-width="1"/>
<text transform="translate(270.3,307.28)" class="tl" text-anchor="end" textLength="12.9" lengthAdjust="spacingAndGlyphs">-2.0</text>
<line x1="277.4" y1="298.72" x2="281.4" y2="298.72" stroke="#1a1a1a" stroke-width="1"/>
<line x1="276.4" y1="293.16" x2="282.4" y2="293.16" stroke="#1a1a1a" stroke-width="1"/>
<text transform="translate(270.3,296.16)" class="tl" text-anchor="end" textLength="11.9" lengthAdjust="spacingAndGlyphs">-1.5</text>
<line x1="277.4" y1="287.6" x2="281.4" y2="287.6" stroke="#1a1a1a" stroke-width="1"/>
<line x1="276.4" y1="282.04" x2="282.4" y2="282.04" stroke="#1a1a1a" stroke-width="1"/>
<text transform="translate(270.3,285.04)" class="tl" text-anchor="end" textLength="11.9" lengthAdjust="spacingAndGlyphs">-1.0</text>
<line x1="277.4" y1="276.48" x2="281.4" y2="276.48" stroke="#1a1a1a" stroke-width="1"/>
<line x1="276.4" y1="270.92" x2="282.4" y2="270.92" stroke="#1a1a1a" stroke-width="1"/>
<text transform="translate(270.3,273.92)" class="tl" text-anchor="end" textLength="12.9" lengthAdjust="spacingAndGlyphs">-0.5</text>
<line x1="277.4" y1="265.36" x2="281.4" y2="265.36" stroke="#1a1a1a" stroke-width="1"/>
<line x1="276.4" y1="259.8" x2="282.4" y2="259.8" stroke="#1a1a1a" stroke-width="1"/>
<text transform="translate(270.3,262.8)" class="tl" text-anchor="end" textLength="9.6" lengthAdjust="spacingAndGlyphs">0.0</text>
<line x1="277.4" y1="254.24" x2="281.4" y2="254.24" stroke="#1a1a1a" stroke-width="1"/>
<line x1="276.4" y1="248.68" x2="282.4" y2="248.68" stroke="#1a1a1a" stroke-width="1"/>
<text transform="translate(270.3,251.68)" class="tl" text-anchor="end" textLength="9.6" lengthAdjust="spacingAndGlyphs">0.5</text>
<line x1="277.4" y1="243.12" x2="281.4" y2="243.12" stroke="#1a1a1a" stroke-width="1"/>
<line x1="276.4" y1="237.56" x2="282.4" y2="237.56" stroke="#1a1a1a" stroke-width="1"/>
<text transform="translate(270.3,240.56)" class="tl" text-anchor="end" textLength="8.1" lengthAdjust="spacingAndGlyphs">1.0</text>
<line x1="277.4" y1="232" x2="281.4" y2="232" stroke="#1a1a1a" stroke-width="1"/>
<line x1="276.4" y1="226.44" x2="282.4" y2="226.44" stroke="#1a1a1a" stroke-width="1"/>
<text transform="translate(270.3,229.44)" class="tl" text-anchor="end" textLength="8.1" lengthAdjust="spacingAndGlyphs">1.5</text>
<line x1="277.4" y1="220.88" x2="281.4" y2="220.88" stroke="#1a1a1a" stroke-width="1"/>
<line x1="276.4" y1="215.32" x2="282.4" y2="215.32" stroke="#1a1a1a" stroke-width="1"/>
<text transform="translate(270.3,218.32)" class="tl" text-anchor="end" textLength="9.6" lengthAdjust="spacingAndGlyphs">2.0</text>
<line x1="277.4" y1="209.76" x2="281.4" y2="209.76" stroke="#1a1a1a" stroke-width="1"/>
<line x1="276.4" y1="204.2" x2="282.4" y2="204.2" stroke="#1a1a1a" stroke-width="1"/>
<text transform="translate(270.3,207.2)" class="tl" text-anchor="end" textLength="9.6" lengthAdjust="spacingAndGlyphs">2.5</text>
<line x1="277.4" y1="198.64" x2="281.4" y2="198.64" stroke="#1a1a1a" stroke-width="1"/>
<line x1="279.4" y1="259.8" x2="441.9" y2="259.8" stroke="#1a1a1a" stroke-width="1"/>
<path d="M443.9 259.8 L440.1 258.55 L440.1 261.05 Z" fill="#1a1a1a"/>
<text transform="translate(279.4,274.4)" class="tl" text-anchor="middle" textLength="3.87" lengthAdjust="spacingAndGlyphs">0</text>
<line x1="291.56" y1="256.6" x2="291.56" y2="263" stroke="#3a3a3a" stroke-width="0.85"/>
<text transform="translate(291.56,274.4)" class="tl" text-anchor="middle" textLength="3.87" lengthAdjust="spacingAndGlyphs">5</text>
<line x1="303.72" y1="256.6" x2="303.72" y2="263" stroke="#3a3a3a" stroke-width="0.85"/>
<text transform="translate(303.72,274.4)" class="tl" text-anchor="middle" textLength="7.75" lengthAdjust="spacingAndGlyphs">10</text>
<line x1="315.88" y1="256.6" x2="315.88" y2="263" stroke="#3a3a3a" stroke-width="0.85"/>
<text transform="translate(315.88,274.4)" class="tl" text-anchor="middle" textLength="7.75" lengthAdjust="spacingAndGlyphs">15</text>
<line x1="328.04" y1="256.6" x2="328.04" y2="263" stroke="#3a3a3a" stroke-width="0.85"/>
<text transform="translate(328.04,274.4)" class="tl" text-anchor="middle" textLength="7.75" lengthAdjust="spacingAndGlyphs">20</text>
<line x1="340.2" y1="256.6" x2="340.2" y2="263" stroke="#3a3a3a" stroke-width="0.85"/>
<text transform="translate(340.2,274.4)" class="tl" text-anchor="middle" textLength="7.75" lengthAdjust="spacingAndGlyphs">25</text>
<line x1="352.36" y1="256.6" x2="352.36" y2="263" stroke="#3a3a3a" stroke-width="0.85"/>
<text transform="translate(352.36,274.4)" class="tl" text-anchor="middle" textLength="7.75" lengthAdjust="spacingAndGlyphs">30</text>
<line x1="364.52" y1="256.6" x2="364.52" y2="263" stroke="#3a3a3a" stroke-width="0.85"/>
<text transform="translate(364.52,274.4)" class="tl" text-anchor="middle" textLength="7.75" lengthAdjust="spacingAndGlyphs">35</text>
<line x1="376.68" y1="256.6" x2="376.68" y2="263" stroke="#3a3a3a" stroke-width="0.85"/>
<text transform="translate(376.68,274.4)" class="tl" text-anchor="middle" textLength="7.75" lengthAdjust="spacingAndGlyphs">40</text>
<line x1="388.84" y1="256.6" x2="388.84" y2="263" stroke="#3a3a3a" stroke-width="0.85"/>
<text transform="translate(388.84,274.4)" class="tl" text-anchor="middle" textLength="7.75" lengthAdjust="spacingAndGlyphs">45</text>
<line x1="401" y1="256.6" x2="401" y2="263" stroke="#3a3a3a" stroke-width="0.85"/>
<text transform="translate(401,274.4)" class="tl" text-anchor="middle" textLength="7.75" lengthAdjust="spacingAndGlyphs">50</text>
<line x1="413.16" y1="256.6" x2="413.16" y2="263" stroke="#3a3a3a" stroke-width="0.85"/>
<text transform="translate(413.16,274.4)" class="tl" text-anchor="middle" textLength="7.75" lengthAdjust="spacingAndGlyphs">55</text>
<line x1="425.32" y1="256.6" x2="425.32" y2="263" stroke="#3a3a3a" stroke-width="0.85"/>
<text transform="translate(425.32,274.4)" class="tl" text-anchor="middle" textLength="7.75" lengthAdjust="spacingAndGlyphs">60</text>
<line x1="437.48" y1="256.6" x2="437.48" y2="263" stroke="#3a3a3a" stroke-width="0.85"/>
<text transform="translate(437.48,274.4)" class="tl" text-anchor="middle" textLength="7.75" lengthAdjust="spacingAndGlyphs">65</text>
<text transform="translate(254.5,326) rotate(-90) scale(0.82,1)" class="tt" textLength="134.27" lengthAdjust="spacing">Position of neutral axis c [cm]</text>
<text transform="translate(330.9,355) scale(0.82,1)" class="tt xt" textLength="50" lengthAdjust="spacing">Load F [kN]</text>
<text x="346.9" y="365.2" text-anchor="middle" class="cap">(d)</text>
<rect x="339.6" y="188.4" width="20.8" height="13.8" fill="#fff" stroke="#444" stroke-width="1.1" rx="1.2"/>
<line x1="342.1" y1="195.7" x2="349.9" y2="195.7" stroke="#ff2a40" stroke-width="1.2"/>
<text x="350.9" y="198.5" class="lg" textLength="8.3" lengthAdjust="spacingAndGlyphs">D1</text>
<path d="M288.3 308.7 289.1 304.9 289.6 286.4 290.5 278.7 291.3 302.7 292 273.3 292.9 297.3 293.8 304.9 294.6 289.6 295.9 252.8 296.5 256 297.1 282 297.6 266 298.4 321.3 299.1 300.5 300 272.63 300.8 290.21 301.6 281.14 302.7 290.52 303.8 286.89 304.9 292.14 305.7 291.74 306.5 291.12 307.35 291.6 308.2 294.09 309 296.12 309.8 294.28 310.6 296.44 311.4 295.11 312.3 291.83 313.1 307.81 314.2 293.63 315.3 289.42 316.1 287.08 316.9 282.1 318 278.78 318.65 282.03 319.3 284.91 320.3 279.82 321.3 275.99 321.95 276.3 322.6 274.69 323.3 278.96 324 283.3 324.9 278.79 325.7 272.05 326.2 270.04 327 281.9 327.65 281.37 328.3 279.53 329.1 280.97 329.9 285.88 330.55 287.98 331.2 291.26 331.9 291.44 332.6 295.68 333.25 294.9 333.9 292.19 334.55 293.51 335.2 295.41 335.85 294.08 336.5 293.5 337.2 298.45 337.9 302.46 338.5 305.54 339.5 292.77 340.5 289.08 341.15 288.37 341.8 286.61 342.5 286.82 343.2 288.38 344.2 281.31 345.2 284.68 346.1 282.45 347.1 283.23 348.2 278.45 348.85 281.31 349.5 283.45 350.3 284.71 351.1 285.1 351.75 286.6 352.4 288.13 353.1 291.29 353.8 292.77 354.45 290.71 355.1 289.37 355.75 288.89 356.4 289.94 357.05 291.75 357.7 292.35 358.4 292.4 359.1 293.06 359.75 290.05 360.4 288.81 361 284.34 361.7 286.32 362.4 288.23 363.3 283.95 364.4 277.94 365.05 280.54 365.7 283.65 366.35 284.4 367 285.97 367.65 286.71 368.3 288.95 369 288.61 369.7 283.92 370.65 286.06 371.6 285.83 372.6 286.39 373.6 286.27 374.6 286.79 375.6 286.16 376.4 285.35 377.2 283.96 377.93 282.41 378.67 284.65 379.4 283.32" fill="none" stroke="#f00" stroke-width="1.05" stroke-linejoin="round"/>
<path d="M377.2 284.2 377.75 282.46 378.3 283.9 378.85 282.65 379.4 283.68 379.95 283.54 380.5 280.13 381.05 279.57 381.6 283.92 382.15 280.42 382.7 280.01 383.25 284.55 383.8 281.88 384.35 284.21 384.9 282.47 385.45 282.68 386 279.24 386.55 281.26 387.1 281.86 387.65 280.35 388.2 282 388.75 282.03 389.3 279.06 389.88 282.8 390.45 281.71 391.03 279.94 391.6 278.27 392.15 282.55 392.7 279.95 393.25 280.93 393.8 281.42 394.35 280.22 394.9 281.11 395.45 277.89 396 279.89 396.55 277.04 397.1 278.94 397.63 280.65 398.17 278.31 398.7 280.56 399.27 280.28 399.83 283.74 400.4 280.04 400.95 282.06 401.5 281.19 402.05 283.29 402.6 283.56 403.15 282.42 403.7 282.78 404.25 281.82 404.8 282.66 405.37 280.85 405.93 281.67 406.5 280.7 407.03 282.38 407.57 281.53 408.1 279.61 408.65 283.09 409.2 283.25 409.75 282.49 410.3 280.19 410.85 280.6 411.4 277.38 411.95 280.46 412.5 278.61 413.05 276.72 413.6 275.21 414.15 279.36 414.7 279.84 415.27 273.7 415.83 276.58 416.4 273.3 416.95 270.19 417.5 269.35 418 269.71" fill="none" stroke="#f00" stroke-width="1.05" stroke-linejoin="round"/>
<path d="M418 268.2 C417.52 270.36 417.67 272.89 416.2 276.3 C414.73 279.71 414.29 278.95 412.5 281 C410.71 283.05 411.77 282.13 409.5 284 C407.23 285.87 406.8 286 404 288 C401.2 290 401.29 289.85 399 291.5 C396.71 293.15 396.36 293.48 395.4 294.2" fill="none" stroke="#f00" stroke-width="1.05" stroke-linejoin="round"/>
<path d="M395.4 294.2 394.87 294.45 394.33 294.68 393.8 294.58 393.25 294.89 392.7 293.45 392.15 293.94 391.6 289.05 391.03 291.5 390.45 294.17 389.88 292.97 389.3 294.5 388.75 290.44 388.2 292.1 387.65 290.86 387.1 292.22 386.55 293.72 386 292.27 385.45 294.68 384.9 296.4 384.35 296.53 383.8 292.73 383.27 288.96 382.73 291.42 382.2 287.39 381.63 289.79 381.07 287.33 380.5 286.71 379.95 289.96 379.4 285.55 378.77 284.58 378.13 287.41 377.5 285.86" fill="none" stroke="#f00" stroke-width="1.05" stroke-linejoin="round"/>
<line x1="34.4" y1="530.3" x2="34.4" y2="377.3" stroke="#1a1a1a" stroke-width="1"/>
<path d="M34.4 375.3 L33.15 379.1 L35.65 379.1 Z" fill="#1a1a1a"/>
<line x1="31.4" y1="530.3" x2="37.4" y2="530.3" stroke="#1a1a1a" stroke-width="1"/>
<text transform="translate(25.3,533.3)" class="tl" text-anchor="end" textLength="12.9" lengthAdjust="spacingAndGlyphs">-3.5</text>
<line x1="32.4" y1="524" x2="36.4" y2="524" stroke="#1a1a1a" stroke-width="1"/>
<line x1="31.4" y1="517.7" x2="37.4" y2="517.7" stroke="#1a1a1a" stroke-width="1"/>
<text transform="translate(25.3,520.7)" class="tl" text-anchor="end" textLength="12.9" lengthAdjust="spacingAndGlyphs">-3.0</text>
<line x1="32.4" y1="511.4" x2="36.4" y2="511.4" stroke="#1a1a1a" stroke-width="1"/>
<line x1="31.4" y1="505.1" x2="37.4" y2="505.1" stroke="#1a1a1a" stroke-width="1"/>
<text transform="translate(25.3,508.1)" class="tl" text-anchor="end" textLength="12.9" lengthAdjust="spacingAndGlyphs">-2.5</text>
<line x1="32.4" y1="498.8" x2="36.4" y2="498.8" stroke="#1a1a1a" stroke-width="1"/>
<line x1="31.4" y1="492.5" x2="37.4" y2="492.5" stroke="#1a1a1a" stroke-width="1"/>
<text transform="translate(25.3,495.5)" class="tl" text-anchor="end" textLength="12.9" lengthAdjust="spacingAndGlyphs">-2.0</text>
<line x1="32.4" y1="486.2" x2="36.4" y2="486.2" stroke="#1a1a1a" stroke-width="1"/>
<line x1="31.4" y1="479.9" x2="37.4" y2="479.9" stroke="#1a1a1a" stroke-width="1"/>
<text transform="translate(25.3,482.9)" class="tl" text-anchor="end" textLength="11.9" lengthAdjust="spacingAndGlyphs">-1.5</text>
<line x1="32.4" y1="473.6" x2="36.4" y2="473.6" stroke="#1a1a1a" stroke-width="1"/>
<line x1="31.4" y1="467.3" x2="37.4" y2="467.3" stroke="#1a1a1a" stroke-width="1"/>
<text transform="translate(25.3,470.3)" class="tl" text-anchor="end" textLength="11.9" lengthAdjust="spacingAndGlyphs">-1.0</text>
<line x1="32.4" y1="461" x2="36.4" y2="461" stroke="#1a1a1a" stroke-width="1"/>
<line x1="31.4" y1="454.7" x2="37.4" y2="454.7" stroke="#1a1a1a" stroke-width="1"/>
<text transform="translate(25.3,457.7)" class="tl" text-anchor="end" textLength="12.9" lengthAdjust="spacingAndGlyphs">-0.5</text>
<line x1="32.4" y1="448.4" x2="36.4" y2="448.4" stroke="#1a1a1a" stroke-width="1"/>
<line x1="31.4" y1="442.1" x2="37.4" y2="442.1" stroke="#1a1a1a" stroke-width="1"/>
<text transform="translate(25.3,445.1)" class="tl" text-anchor="end" textLength="9.6" lengthAdjust="spacingAndGlyphs">0.0</text>
<line x1="32.4" y1="435.8" x2="36.4" y2="435.8" stroke="#1a1a1a" stroke-width="1"/>
<line x1="31.4" y1="429.5" x2="37.4" y2="429.5" stroke="#1a1a1a" stroke-width="1"/>
<text transform="translate(25.3,432.5)" class="tl" text-anchor="end" textLength="9.6" lengthAdjust="spacingAndGlyphs">0.5</text>
<line x1="32.4" y1="423.2" x2="36.4" y2="423.2" stroke="#1a1a1a" stroke-width="1"/>
<line x1="31.4" y1="416.9" x2="37.4" y2="416.9" stroke="#1a1a1a" stroke-width="1"/>
<text transform="translate(25.3,419.9)" class="tl" text-anchor="end" textLength="8.1" lengthAdjust="spacingAndGlyphs">1.0</text>
<line x1="32.4" y1="410.6" x2="36.4" y2="410.6" stroke="#1a1a1a" stroke-width="1"/>
<line x1="31.4" y1="404.3" x2="37.4" y2="404.3" stroke="#1a1a1a" stroke-width="1"/>
<text transform="translate(25.3,407.3)" class="tl" text-anchor="end" textLength="8.1" lengthAdjust="spacingAndGlyphs">1.5</text>
<line x1="32.4" y1="398" x2="36.4" y2="398" stroke="#1a1a1a" stroke-width="1"/>
<line x1="31.4" y1="391.7" x2="37.4" y2="391.7" stroke="#1a1a1a" stroke-width="1"/>
<text transform="translate(25.3,394.7)" class="tl" text-anchor="end" textLength="9.6" lengthAdjust="spacingAndGlyphs">2.0</text>
<line x1="32.4" y1="385.4" x2="36.4" y2="385.4" stroke="#1a1a1a" stroke-width="1"/>
<line x1="31.4" y1="379.1" x2="37.4" y2="379.1" stroke="#1a1a1a" stroke-width="1"/>
<text transform="translate(25.3,382.1)" class="tl" text-anchor="end" textLength="9.6" lengthAdjust="spacingAndGlyphs">2.5</text>
<line x1="34.4" y1="442.1" x2="196.7" y2="442.1" stroke="#1a1a1a" stroke-width="1"/>
<path d="M198.7 442.1 L194.9 440.85 L194.9 443.35 Z" fill="#1a1a1a"/>
<text transform="translate(34.4,456.7)" class="tl" text-anchor="middle" textLength="3.87" lengthAdjust="spacingAndGlyphs">0</text>
<line x1="50" y1="438.9" x2="50" y2="445.3" stroke="#3a3a3a" stroke-width="0.85"/>
<text transform="translate(50,456.7)" class="tl" text-anchor="middle" textLength="3.87" lengthAdjust="spacingAndGlyphs">5</text>
<line x1="65.6" y1="438.9" x2="65.6" y2="445.3" stroke="#3a3a3a" stroke-width="0.85"/>
<text transform="translate(65.6,456.7)" class="tl" text-anchor="middle" textLength="7.75" lengthAdjust="spacingAndGlyphs">10</text>
<line x1="81.2" y1="438.9" x2="81.2" y2="445.3" stroke="#3a3a3a" stroke-width="0.85"/>
<text transform="translate(81.2,456.7)" class="tl" text-anchor="middle" textLength="7.75" lengthAdjust="spacingAndGlyphs">15</text>
<line x1="96.8" y1="438.9" x2="96.8" y2="445.3" stroke="#3a3a3a" stroke-width="0.85"/>
<text transform="translate(96.8,456.7)" class="tl" text-anchor="middle" textLength="7.75" lengthAdjust="spacingAndGlyphs">20</text>
<line x1="112.4" y1="438.9" x2="112.4" y2="445.3" stroke="#3a3a3a" stroke-width="0.85"/>
<text transform="translate(112.4,456.7)" class="tl" text-anchor="middle" textLength="7.75" lengthAdjust="spacingAndGlyphs">25</text>
<line x1="128" y1="438.9" x2="128" y2="445.3" stroke="#3a3a3a" stroke-width="0.85"/>
<text transform="translate(128,456.7)" class="tl" text-anchor="middle" textLength="7.75" lengthAdjust="spacingAndGlyphs">30</text>
<line x1="143.6" y1="438.9" x2="143.6" y2="445.3" stroke="#3a3a3a" stroke-width="0.85"/>
<text transform="translate(143.6,456.7)" class="tl" text-anchor="middle" textLength="7.75" lengthAdjust="spacingAndGlyphs">35</text>
<line x1="159.2" y1="438.9" x2="159.2" y2="445.3" stroke="#3a3a3a" stroke-width="0.85"/>
<text transform="translate(159.2,456.7)" class="tl" text-anchor="middle" textLength="7.75" lengthAdjust="spacingAndGlyphs">40</text>
<line x1="174.8" y1="438.9" x2="174.8" y2="445.3" stroke="#3a3a3a" stroke-width="0.85"/>
<text transform="translate(174.8,456.7)" class="tl" text-anchor="middle" textLength="7.75" lengthAdjust="spacingAndGlyphs">45</text>
<line x1="190.4" y1="438.9" x2="190.4" y2="445.3" stroke="#3a3a3a" stroke-width="0.85"/>
<text transform="translate(190.4,456.7)" class="tl" text-anchor="middle" textLength="7.75" lengthAdjust="spacingAndGlyphs">50</text>
<text transform="translate(9.1,506.1) rotate(-90) scale(0.82,1)" class="tt" textLength="130.49" lengthAdjust="spacing">Position of neutral axis c[cm]</text>
<text transform="translate(85.9,536.2) scale(0.82,1)" class="tt xt" textLength="50" lengthAdjust="spacing">Load F [kN]</text>
<text x="101.7" y="546.1" text-anchor="middle" class="cap">(e)</text>
<rect x="95.3" y="370.4" width="19.3" height="13.1" fill="#fff" stroke="#444" stroke-width="1.1" rx="1.2"/>
<line x1="97.8" y1="377.2" x2="105.6" y2="377.2" stroke="#ff2a40" stroke-width="1.2"/>
<text x="106.6" y="380" class="lg" textLength="8.3" lengthAdjust="spacingAndGlyphs">E1</text>
<path d="M35.4 425.2 36.2 425.4 36 470" fill="none" stroke="#f00" stroke-width="0.5" stroke-linejoin="round"/>
<path d="M35 442 35.4 425.2 35.5 470 36 503.4 36.4 470 36.8 452 37.5 440 38.6 384 39.7 440 40.8 460.9 41.4 458.7 42.5 488.2 43.5 456.5 44.6 463.1 45.45 468 46.3 472.9 47.4 479.4 48.2 494.7 49 479.4 50.1 471.8 51.1 472.2 51.8 479.5 53 460.5 54 449.6 54.75 448.55 55.5 447.5 56.2 482.4 57.3 439.5 58.4 441.6 59.8 457.6 60.55 455.2 61.3 455.6 62 457.59 62.7 458.46 64.9 473.59 66.4 435.67 67.5 452.19 68.1 470.05 69.3 449.34 70.03 450.61 70.77 454.14 71.5 454.53 72.2 456.85 72.9 456.34 73.6 458.96 74.3 456.18 75 451.39 75.9 466.46 76.7 447.64 77.4 439.78 78.3 456.37 79.4 446.71 80.5 442.14 81.1 447.89 82.2 444.76 83.3 451.9 84.4 455.28 85.5 461.28 86.6 453.54 87.7 455.89 88.8 460.21 89.6 461.9 90.7 457.97 91.6 456.39 92.7 454.85 93.8 445.36 94.9 450.18 95.8 444.45 96.5 448.57 97.6 444.08 98.7 447.88 99.8 444.74 100.9 446.11 102 443.87 103.1 446.08 104.2 442.15 105 439.93 105.9 446.9 106.5 460.66 107.6 452.54 108.7 454.89 109.8 453.93 110.9 453.09 112 448.6 112.7 442.11 113.6 446.83 114.7 450.89 115.8 447.53 116.9 446.77 118 452.98 118.6 449.05 119.2 446.73 120.3 449.33 121.4 446.25 122.15 447.97 122.9 450.64 123.6 452.26 124.3 454.39 125 455.15 125.73 455.29 126.47 456.01 127.2 455.28 127.9 454.85 128.6 456.1 129.3 456.36 130.03 454.64 130.77 453.42 131.5 452.14 132.2 452.04 132.9 452.32 133.6 450.8 134.35 448.75 135.1 448.14 135.8 447.95 136.5 450.14 137.5 445.48 138.7 448.1 139.4 446.74 140.1 445.2 140.8 448.07 141.5 451.29 142.25 449.51 143 452.24 143.7 453.3 144.4 454.44 145.1 455.03 145.83 454.74 146.57 453.52 147.3 453.16 148 452.06 148.7 450.35 149.4 453.56 150.1 453.88 150.85 450.42 151.6 448.71 152.3 449.01 153 449.03 153.7 447.9 154.4 447.3 155.15 447.17 155.9 446.79 156.6 447.09 157.3 446.67 158 446.15 158.7 444.96 159.43 446.72 160.17 448.14 160.9 448.68 161.6 450.12 162.3 451.62 163.05 449.11 163.8 449.59 164.8 457.75 165.9 449.02 166.6 450.64 167.3 452.44 168.05 451.86 168.8 448.05 169.5 450.88 170.2 455.42 170.9 451.1 171.6 446.78 172.35 449.92 173.1 453.77 173.8 450.34 174.5 448.11 175.25 452.1 176 454.28 176.7 451.79 177.4 450.03 178.1 451.36 178.8 454.81 179.55 453.84 180.3 452.19 181.15 450.53 182 451.14" fill="none" stroke="#f00" stroke-width="1.05" stroke-linejoin="round"/>
<path d="M182 450.1 C182.08 449.01 182.49 447.89 182.3 446 C182.11 444.11 182.13 444.04 181.3 443 C180.47 441.96 179.76 442.34 179.2 442.1" fill="none" stroke="#f00" stroke-width="1.2" stroke-linejoin="round"/>
<path d="M179.2 442.1 52.4 442.1" fill="none" stroke="#fff" stroke-width="1.6" stroke-linejoin="round"/>
<path d="M179.2 442.1 52.4 442.1" fill="none" stroke="#f00" stroke-width="1.3" stroke-linejoin="round"/>
<line x1="279.4" y1="529.82" x2="279.4" y2="376.9" stroke="#1a1a1a" stroke-width="1"/>
<path d="M279.4 374.9 L278.15 378.7 L280.65 378.7 Z" fill="#1a1a1a"/>
<line x1="276.4" y1="529.82" x2="282.4" y2="529.82" stroke="#1a1a1a" stroke-width="1"/>
<text transform="translate(270.3,532.82)" class="tl" text-anchor="end" textLength="12.9" lengthAdjust="spacingAndGlyphs">-5.5</text>
<line x1="277.4" y1="525.26" x2="281.4" y2="525.26" stroke="#1a1a1a" stroke-width="1"/>
<line x1="276.4" y1="520.7" x2="282.4" y2="520.7" stroke="#1a1a1a" stroke-width="1"/>
<text transform="translate(270.3,523.7)" class="tl" text-anchor="end" textLength="12.9" lengthAdjust="spacingAndGlyphs">-5.0</text>
<line x1="277.4" y1="516.14" x2="281.4" y2="516.14" stroke="#1a1a1a" stroke-width="1"/>
<line x1="276.4" y1="511.58" x2="282.4" y2="511.58" stroke="#1a1a1a" stroke-width="1"/>
<text transform="translate(270.3,514.58)" class="tl" text-anchor="end" textLength="12.9" lengthAdjust="spacingAndGlyphs">-4.5</text>
<line x1="277.4" y1="507.02" x2="281.4" y2="507.02" stroke="#1a1a1a" stroke-width="1"/>
<line x1="276.4" y1="502.46" x2="282.4" y2="502.46" stroke="#1a1a1a" stroke-width="1"/>
<text transform="translate(270.3,505.46)" class="tl" text-anchor="end" textLength="12.9" lengthAdjust="spacingAndGlyphs">-4.0</text>
<line x1="277.4" y1="497.9" x2="281.4" y2="497.9" stroke="#1a1a1a" stroke-width="1"/>
<line x1="276.4" y1="493.34" x2="282.4" y2="493.34" stroke="#1a1a1a" stroke-width="1"/>
<text transform="translate(270.3,496.34)" class="tl" text-anchor="end" textLength="12.9" lengthAdjust="spacingAndGlyphs">-3.5</text>
<line x1="277.4" y1="488.78" x2="281.4" y2="488.78" stroke="#1a1a1a" stroke-width="1"/>
<line x1="276.4" y1="484.22" x2="282.4" y2="484.22" stroke="#1a1a1a" stroke-width="1"/>
<text transform="translate(270.3,487.22)" class="tl" text-anchor="end" textLength="12.9" lengthAdjust="spacingAndGlyphs">-3.0</text>
<line x1="277.4" y1="479.66" x2="281.4" y2="479.66" stroke="#1a1a1a" stroke-width="1"/>
<line x1="276.4" y1="475.1" x2="282.4" y2="475.1" stroke="#1a1a1a" stroke-width="1"/>
<text transform="translate(270.3,478.1)" class="tl" text-anchor="end" textLength="12.9" lengthAdjust="spacingAndGlyphs">-2.5</text>
<line x1="277.4" y1="470.54" x2="281.4" y2="470.54" stroke="#1a1a1a" stroke-width="1"/>
<line x1="276.4" y1="465.98" x2="282.4" y2="465.98" stroke="#1a1a1a" stroke-width="1"/>
<text transform="translate(270.3,468.98)" class="tl" text-anchor="end" textLength="12.9" lengthAdjust="spacingAndGlyphs">-2.0</text>
<line x1="277.4" y1="461.42" x2="281.4" y2="461.42" stroke="#1a1a1a" stroke-width="1"/>
<line x1="276.4" y1="456.86" x2="282.4" y2="456.86" stroke="#1a1a1a" stroke-width="1"/>
<text transform="translate(270.3,459.86)" class="tl" text-anchor="end" textLength="11.9" lengthAdjust="spacingAndGlyphs">-1.5</text>
<line x1="277.4" y1="452.3" x2="281.4" y2="452.3" stroke="#1a1a1a" stroke-width="1"/>
<line x1="276.4" y1="447.74" x2="282.4" y2="447.74" stroke="#1a1a1a" stroke-width="1"/>
<text transform="translate(270.3,450.74)" class="tl" text-anchor="end" textLength="11.9" lengthAdjust="spacingAndGlyphs">-1.0</text>
<line x1="277.4" y1="443.18" x2="281.4" y2="443.18" stroke="#1a1a1a" stroke-width="1"/>
<line x1="276.4" y1="438.62" x2="282.4" y2="438.62" stroke="#1a1a1a" stroke-width="1"/>
<text transform="translate(270.3,441.62)" class="tl" text-anchor="end" textLength="12.9" lengthAdjust="spacingAndGlyphs">-0.5</text>
<line x1="277.4" y1="434.06" x2="281.4" y2="434.06" stroke="#1a1a1a" stroke-width="1"/>
<line x1="276.4" y1="429.5" x2="282.4" y2="429.5" stroke="#1a1a1a" stroke-width="1"/>
<text transform="translate(270.3,432.5)" class="tl" text-anchor="end" textLength="9.6" lengthAdjust="spacingAndGlyphs">0.0</text>
<line x1="277.4" y1="424.94" x2="281.4" y2="424.94" stroke="#1a1a1a" stroke-width="1"/>
<line x1="276.4" y1="420.38" x2="282.4" y2="420.38" stroke="#1a1a1a" stroke-width="1"/>
<text transform="translate(270.3,423.38)" class="tl" text-anchor="end" textLength="9.6" lengthAdjust="spacingAndGlyphs">0.5</text>
<line x1="277.4" y1="415.82" x2="281.4" y2="415.82" stroke="#1a1a1a" stroke-width="1"/>
<line x1="276.4" y1="411.26" x2="282.4" y2="411.26" stroke="#1a1a1a" stroke-width="1"/>
<text transform="translate(270.3,414.26)" class="tl" text-anchor="end" textLength="8.1" lengthAdjust="spacingAndGlyphs">1.0</text>
<line x1="277.4" y1="406.7" x2="281.4" y2="406.7" stroke="#1a1a1a" stroke-width="1"/>
<line x1="276.4" y1="402.14" x2="282.4" y2="402.14" stroke="#1a1a1a" stroke-width="1"/>
<text transform="translate(270.3,405.14)" class="tl" text-anchor="end" textLength="8.1" lengthAdjust="spacingAndGlyphs">1.5</text>
<line x1="277.4" y1="397.58" x2="281.4" y2="397.58" stroke="#1a1a1a" stroke-width="1"/>
<line x1="276.4" y1="393.02" x2="282.4" y2="393.02" stroke="#1a1a1a" stroke-width="1"/>
<text transform="translate(270.3,396.02)" class="tl" text-anchor="end" textLength="9.6" lengthAdjust="spacingAndGlyphs">2.0</text>
<line x1="277.4" y1="388.46" x2="281.4" y2="388.46" stroke="#1a1a1a" stroke-width="1"/>
<line x1="276.4" y1="383.9" x2="282.4" y2="383.9" stroke="#1a1a1a" stroke-width="1"/>
<text transform="translate(270.3,386.9)" class="tl" text-anchor="end" textLength="9.6" lengthAdjust="spacingAndGlyphs">2.5</text>
<line x1="277.4" y1="379.34" x2="281.4" y2="379.34" stroke="#1a1a1a" stroke-width="1"/>
<line x1="279.4" y1="429.5" x2="441.7" y2="429.5" stroke="#1a1a1a" stroke-width="1"/>
<path d="M443.7 429.5 L439.9 428.25 L439.9 430.75 Z" fill="#1a1a1a"/>
<text transform="translate(279.3,444.1)" class="tl" text-anchor="middle" textLength="3.87" lengthAdjust="spacingAndGlyphs">0</text>
<line x1="293.59" y1="426.3" x2="293.59" y2="432.7" stroke="#3a3a3a" stroke-width="0.85"/>
<text transform="translate(293.59,444.1)" class="tl" text-anchor="middle" textLength="3.87" lengthAdjust="spacingAndGlyphs">5</text>
<line x1="307.88" y1="426.3" x2="307.88" y2="432.7" stroke="#3a3a3a" stroke-width="0.85"/>
<text transform="translate(307.88,444.1)" class="tl" text-anchor="middle" textLength="7.75" lengthAdjust="spacingAndGlyphs">10</text>
<line x1="322.17" y1="426.3" x2="322.17" y2="432.7" stroke="#3a3a3a" stroke-width="0.85"/>
<text transform="translate(322.17,444.1)" class="tl" text-anchor="middle" textLength="7.75" lengthAdjust="spacingAndGlyphs">15</text>
<line x1="336.46" y1="426.3" x2="336.46" y2="432.7" stroke="#3a3a3a" stroke-width="0.85"/>
<text transform="translate(336.46,444.1)" class="tl" text-anchor="middle" textLength="7.75" lengthAdjust="spacingAndGlyphs">20</text>
<line x1="350.75" y1="426.3" x2="350.75" y2="432.7" stroke="#3a3a3a" stroke-width="0.85"/>
<text transform="translate(350.75,444.1)" class="tl" text-anchor="middle" textLength="7.75" lengthAdjust="spacingAndGlyphs">25</text>
<line x1="365.04" y1="426.3" x2="365.04" y2="432.7" stroke="#3a3a3a" stroke-width="0.85"/>
<text transform="translate(365.04,444.1)" class="tl" text-anchor="middle" textLength="7.75" lengthAdjust="spacingAndGlyphs">30</text>
<line x1="379.33" y1="426.3" x2="379.33" y2="432.7" stroke="#3a3a3a" stroke-width="0.85"/>
<text transform="translate(379.33,444.1)" class="tl" text-anchor="middle" textLength="7.75" lengthAdjust="spacingAndGlyphs">35</text>
<line x1="393.62" y1="426.3" x2="393.62" y2="432.7" stroke="#3a3a3a" stroke-width="0.85"/>
<text transform="translate(393.62,444.1)" class="tl" text-anchor="middle" textLength="7.75" lengthAdjust="spacingAndGlyphs">40</text>
<line x1="407.91" y1="426.3" x2="407.91" y2="432.7" stroke="#3a3a3a" stroke-width="0.85"/>
<text transform="translate(407.91,444.1)" class="tl" text-anchor="middle" textLength="7.75" lengthAdjust="spacingAndGlyphs">45</text>
<line x1="422.2" y1="426.3" x2="422.2" y2="432.7" stroke="#3a3a3a" stroke-width="0.85"/>
<text transform="translate(422.2,444.1)" class="tl" text-anchor="middle" textLength="7.75" lengthAdjust="spacingAndGlyphs">50</text>
<line x1="436.49" y1="426.3" x2="436.49" y2="432.7" stroke="#3a3a3a" stroke-width="0.85"/>
<text transform="translate(436.49,444.1)" class="tl" text-anchor="middle" textLength="7.75" lengthAdjust="spacingAndGlyphs">55</text>
<text transform="translate(253.4,507.2) rotate(-90) scale(0.82,1)" class="tt" textLength="134.02" lengthAdjust="spacing">Position of neutral axis c [cm]</text>
<text transform="translate(330.9,536.2) scale(0.82,1)" class="tt xt" textLength="50" lengthAdjust="spacing">Load F [kN]</text>
<text x="347" y="546.1" text-anchor="middle" class="cap">(f)</text>
<rect x="340.2" y="370.4" width="19.4" height="13.1" fill="#fff" stroke="#444" stroke-width="1.1" rx="1.2"/>
<line x1="342.7" y1="377.2" x2="350.5" y2="377.2" stroke="#ff2a40" stroke-width="1.2"/>
<text x="351.5" y="380" class="lg" textLength="8.3" lengthAdjust="spacingAndGlyphs">F1</text>
<path d="M279.4 429.5 281.4 502.3 281.8 389.3 282.5 500 282.9 395.3 283.5 397.4 284.5 399.1 285.6 400.2 286.7 401.8 287.3 408.4 288.4 411.6 289.5 412.7 290.2 414.9 290.9 424.7 291.6 409.4 292.1 448.2 292.7 440 293.8 424.7 294.5 422 295.2 419.3 296 423.6 296.8 436.7 297.6 445.1 298.2 429.1 298.9 427.45 299.6 425.8 300.25 422.72 300.9 422.23 302 430.83 303.1 438.31 304.2 431.29 305 427.33 305.8 423.96 306.9 426.49 307.7 420.43 308.8 422.47 309.6 425.51 310.7 421.84 311.8 429.73 312.7 435.51 313.8 423.47 314.45 426.33 315.1 427.35 316.1 443.87 317 427.86 317.9 427.07 319 424.46 320 424.4 321 429.25 321.9 426.61 322.7 431.52 323.6 430.71 324.3 437.67 325.3 443.43 326.3 435.35 326.95 437.49 327.6 438.86 328.25 437.85 328.9 436.83 329.55 439.05 330.2 440.3 330.9 440.65 331.6 443.61 332.5 444.94 333.5 436.54 334.6 436.75 335.5 441.98 336.2 440.66 336.9 437.89 337.55 439.1 338.2 440.73 338.85 439.36 339.5 438.55 340.15 437.66 340.8 438.99 341.5 437.61 342.2 435.73 343.1 433.71 343.9 430.52 344.8 435.73 345.7 437.51 346.8 439.01 347.45 438.03 348.1 438.88 348.75 440.56 349.4 439.99 350.1 440.07 350.8 441.62 351.8 443.99 352.7 445.92 353.4 447.8 354.5 440.05 355.5 434.02 356.2 438.67 357 432.05 357.8 436.74 358.6 430.98 359.3 434.87 360.1 428.7 360.8 435.49 361.5 431.66 362.3 437.22 363.2 434.74 363.9 439.41 364.5 440.21 365.1 441.36 365.9 441.15 366.7 440.9 367.35 442.01 368 440.86 369 441.53 370 442.59 370.73 441.52 371.47 441.07 372.2 440.45 373.05 440.57 373.9 441 375 437.61 376.1 441.08 376.9 441.72 377.7 442.43 378.55 441.83 379.4 441.74 380.2 441.59 381 442.25 381.85 441.37 382.7 439.93 383.5 441.34 384.3 440.07 385.5 441.38 386.6 441.01 387.7 442.06 388.5 441.21 389.3 440.63 390.15 441.89 391 442.9 391.8 442.32 392.6 441.4 393.45 439.82 394.3 439.75 395.1 440.18 395.9 441.7 397 440.77 398.1 443.32 399.2 444.41 400.05 444.21 400.9 442.61 402 445.62 402.85 444.97 403.7 443.3 404.5 443.69 405.3 444.23 406.15 446.26 407 445.3 407.8 446.36 408.6 449 409.45 449.98 410.3 450.97 411 452.83 411.7 455.37 412.8 460.6 413.8 469.75 414.7 480.91 415.4 487.99 416 493.97 416.8 495.64 417.6 495.86 418.5 503.03 418.9 510.81 417.9 516.55 417.25 517.96 416.6 521.46" fill="none" stroke="#f00" stroke-width="1.05" stroke-linejoin="round"/>
</svg>
</body></html>
